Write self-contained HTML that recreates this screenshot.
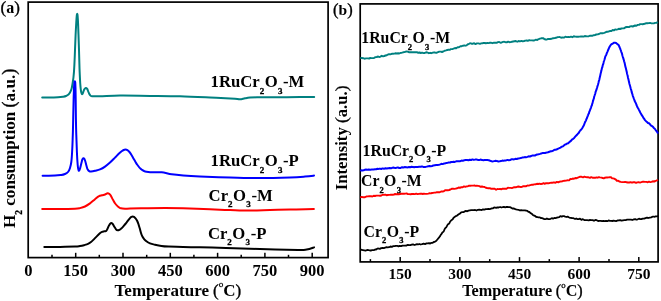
<!DOCTYPE html>
<html><head><meta charset="utf-8"><style>
html,body{margin:0;padding:0;background:#fff;}
body{width:661px;height:301px;overflow:hidden;}
svg{display:block;filter:blur(0.4px);}
text{font-family:"Liberation Serif","Times New Roman",serif;font-weight:bold;fill:#000;}
</style></head><body>
<svg width="661" height="301" viewBox="0 0 661 301">
<rect x="0" y="0" width="661" height="301" fill="#fff"/>

<text x="0.5" y="13" font-size="16"><tspan font-weight="normal" font-size="17.00" stroke="#000" stroke-width="0.35">(</tspan>a<tspan font-weight="normal" font-size="17.00" stroke="#000" stroke-width="0.35">)</tspan></text>
<rect x="28.2" y="2.1" width="299.9" height="255.5" fill="none" stroke="#000" stroke-width="1.7"/>
<g stroke="#000" stroke-width="1.5"><line x1="52.0" y1="257.6" x2="52.0" y2="254.8"/>
<line x1="75.7" y1="257.6" x2="75.7" y2="252.8"/>
<line x1="99.3" y1="257.6" x2="99.3" y2="254.8"/>
<line x1="123.0" y1="257.6" x2="123.0" y2="252.8"/>
<line x1="146.7" y1="257.6" x2="146.7" y2="254.8"/>
<line x1="170.3" y1="257.6" x2="170.3" y2="252.8"/>
<line x1="193.9" y1="257.6" x2="193.9" y2="254.8"/>
<line x1="217.6" y1="257.6" x2="217.6" y2="252.8"/>
<line x1="241.2" y1="257.6" x2="241.2" y2="254.8"/>
<line x1="264.9" y1="257.6" x2="264.9" y2="252.8"/>
<line x1="288.5" y1="257.6" x2="288.5" y2="254.8"/>
<line x1="312.2" y1="257.6" x2="312.2" y2="252.8"/></g>
<text x="28.4" y="276" font-size="16.50" text-anchor="middle">0</text>
<text x="75.7" y="276" font-size="16.50" text-anchor="middle">150</text>
<text x="123.0" y="276" font-size="16.50" text-anchor="middle">300</text>
<text x="170.3" y="276" font-size="16.50" text-anchor="middle">450</text>
<text x="217.6" y="276" font-size="16.50" text-anchor="middle">600</text>
<text x="264.9" y="276" font-size="16.50" text-anchor="middle">750</text>
<text x="312.2" y="276" font-size="16.50" text-anchor="middle">900</text>
<text x="114.6" y="295.8" font-size="17.00"><tspan>Temperature</tspan><tspan dx="-0.3"> </tspan><tspan font-weight="normal" font-size="17.00" stroke="#000" stroke-width="0.35">(</tspan><tspan font-weight="normal" font-size="9.18" dy="-8.84" stroke="#000" stroke-width="0.3">o</tspan><tspan dy="8.84">C</tspan><tspan font-weight="normal" font-size="17.00" stroke="#000" stroke-width="0.35">)</tspan></text>
<text transform="translate(15.3,228.0) rotate(-90)" font-size="17.10">H<tspan font-size="9.41" dy="6.50" stroke="#000" stroke-width="0.3">2</tspan><tspan dy="-6.50"> consumption </tspan><tspan font-weight="normal" font-size="17.96" stroke="#000" stroke-width="0.35">(</tspan>a.u.<tspan font-weight="normal" font-size="17.96" stroke="#000" stroke-width="0.35">)</tspan></text>
<path d="M42.2,97.4 C43.5,97.4 47.4,97.4 50.0,97.4 C52.6,97.4 55.8,97.3 58.0,97.2 C60.2,97.1 61.7,96.9 63.0,96.7 C64.3,96.5 65.1,96.4 66.0,96.0 C66.9,95.6 67.8,95.1 68.5,94.5 C69.2,93.9 69.5,93.4 70.0,92.5 C70.5,91.6 71.1,90.4 71.5,89.0 C71.9,87.6 72.2,86.0 72.5,84.0 C72.8,82.0 73.2,79.7 73.5,77.0 C73.8,74.3 74.0,72.5 74.2,68.0 C74.5,63.5 74.8,55.5 75.0,50.0 C75.2,44.5 75.4,39.7 75.6,35.0 C75.8,30.3 76.1,25.4 76.3,22.0 C76.5,18.6 76.7,15.8 76.9,14.6 C77.1,13.4 77.3,13.4 77.5,14.6 C77.7,15.8 77.8,18.6 78.0,22.0 C78.2,25.4 78.3,30.3 78.5,35.0 C78.7,39.7 78.8,44.5 79.0,50.0 C79.2,55.5 79.3,62.5 79.5,68.0 C79.7,73.5 80.0,79.2 80.2,83.0 C80.5,86.8 80.7,89.2 81.0,91.0 C81.3,92.8 81.5,93.6 81.8,94.0 C82.1,94.4 82.3,94.3 82.7,93.6 C83.1,92.8 83.7,90.5 84.2,89.5 C84.7,88.5 85.3,88.0 85.8,87.9 C86.3,87.8 86.7,88.2 87.2,88.9 C87.7,89.7 88.1,91.4 88.6,92.4 C89.1,93.4 89.4,94.4 90.0,95.0 C90.6,95.6 90.3,96.0 92.0,96.2 C93.7,96.4 95.3,96.4 100.0,96.3 C104.7,96.2 111.7,95.7 120.0,95.6 C128.3,95.5 140.0,95.8 150.0,95.9 C160.0,96.0 170.0,96.0 180.0,96.3 C190.0,96.6 200.8,97.1 210.0,97.5 C219.2,97.9 230.0,98.4 235.0,98.7 C240.0,99.0 238.3,99.4 240.0,99.3 C241.7,99.2 243.3,98.6 245.0,98.3 C246.7,98.0 247.5,97.8 250.0,97.6 C252.5,97.4 255.0,97.4 260.0,97.3 C265.0,97.2 273.3,97.2 280.0,97.2 C286.7,97.2 294.3,97.1 300.0,97.1 C305.7,97.1 311.8,97.0 314.2,97.0" fill="none" stroke="#008080" stroke-width="2" stroke-linejoin="round" stroke-linecap="round"/>
<path d="M42.6,175.7 C44.7,175.7 51.9,175.6 55.0,175.5 C58.1,175.4 59.5,175.2 61.2,175.0 C62.9,174.8 63.9,174.5 65.0,174.0 C66.1,173.5 67.2,173.0 68.0,172.0 C68.8,171.0 69.5,169.7 70.0,168.0 C70.5,166.3 70.9,165.0 71.3,162.0 C71.7,159.0 72.0,154.5 72.2,150.0 C72.5,145.5 72.6,140.3 72.8,135.0 C73.0,129.7 73.1,123.8 73.2,118.0 C73.3,112.2 73.5,105.0 73.6,100.0 C73.7,95.0 73.9,91.0 74.0,88.0 C74.1,85.0 74.3,83.3 74.4,82.2 C74.5,81.1 74.7,81.2 74.8,81.2 C74.9,81.2 75.1,81.1 75.2,82.2 C75.3,83.3 75.4,85.0 75.5,88.0 C75.6,91.0 75.6,95.0 75.7,100.0 C75.8,105.0 75.8,112.2 75.9,118.0 C76.0,123.8 76.1,129.3 76.3,135.0 C76.5,140.7 76.7,147.0 76.9,152.0 C77.1,157.0 77.4,161.9 77.7,165.0 C78.0,168.1 78.3,170.0 78.7,170.6 C79.1,171.2 79.6,169.8 80.0,168.6 C80.4,167.4 80.9,165.0 81.3,163.5 C81.7,162.0 82.0,160.5 82.3,159.6 C82.6,158.7 83.0,158.3 83.3,158.2 C83.6,158.1 84.0,158.3 84.3,158.8 C84.6,159.3 84.9,160.2 85.3,161.3 C85.7,162.4 86.0,164.2 86.4,165.5 C86.8,166.8 87.1,168.2 87.6,169.2 C88.1,170.1 88.6,170.8 89.2,171.2 C89.8,171.6 90.0,171.7 91.0,171.6 C92.0,171.5 93.5,171.2 95.0,170.8 C96.5,170.4 98.3,170.1 100.0,169.4 C101.7,168.7 103.3,167.8 105.0,166.6 C106.7,165.4 108.3,164.0 110.0,162.5 C111.7,161.0 113.5,159.1 115.0,157.6 C116.5,156.1 117.8,154.7 119.0,153.6 C120.2,152.5 121.1,151.7 122.0,151.0 C122.9,150.3 123.8,149.9 124.5,149.7 C125.2,149.5 125.8,149.6 126.5,149.8 C127.2,150.0 127.8,150.4 128.5,151.0 C129.2,151.6 129.7,152.2 130.5,153.4 C131.3,154.6 132.5,156.8 133.3,158.2 C134.1,159.6 134.8,160.9 135.5,162.0 C136.2,163.1 136.8,164.1 137.5,165.0 C138.2,165.9 138.8,166.8 139.5,167.6 C140.2,168.3 140.8,168.9 141.5,169.5 C142.2,170.1 143.2,170.6 144.0,171.0 C144.8,171.4 144.9,171.5 146.5,171.7 C148.1,171.9 150.8,172.2 153.3,172.3 C155.8,172.4 158.6,172.0 161.7,172.3 C164.8,172.6 168.1,173.8 171.7,174.3 C175.3,174.8 178.6,175.1 183.3,175.5 C188.0,175.9 192.2,176.2 200.0,176.6 C207.8,176.9 220.2,177.3 230.0,177.6 C239.8,177.8 249.0,178.1 259.0,178.1 C269.0,178.1 282.3,177.7 290.0,177.4 C297.7,177.2 301.0,176.9 305.0,176.6 C309.0,176.3 312.5,175.8 314.0,175.6" fill="none" stroke="#0000ff" stroke-width="2.0" stroke-linejoin="round" stroke-linecap="round"/>
<path d="M42.2,208.9 C45.2,208.9 54.5,208.9 60.0,208.9 C65.5,208.9 71.7,208.8 75.0,208.7 C78.3,208.6 78.3,208.5 80.0,208.1 C81.7,207.7 83.3,207.3 85.0,206.5 C86.7,205.7 88.3,204.6 90.0,203.4 C91.7,202.2 93.5,200.4 95.0,199.2 C96.5,198.0 97.8,196.8 99.0,196.2 C100.2,195.5 101.0,195.6 102.0,195.3 C103.0,195.0 104.1,194.8 105.0,194.5 C105.9,194.2 106.8,193.4 107.5,193.3 C108.2,193.2 108.9,193.6 109.5,194.0 C110.1,194.4 110.4,195.0 111.0,196.0 C111.6,197.0 112.3,198.6 113.0,199.8 C113.7,201.0 114.3,202.2 115.0,203.2 C115.7,204.2 116.3,204.9 117.0,205.6 C117.7,206.3 118.3,206.9 119.0,207.3 C119.7,207.8 120.0,208.1 121.0,208.3 C122.0,208.5 123.5,208.6 125.0,208.7 C126.5,208.8 126.2,208.7 130.0,208.6 C133.8,208.5 142.2,208.3 148.0,208.2 C153.8,208.1 159.2,208.1 165.0,208.1 C170.8,208.1 175.5,208.1 183.0,208.3 C190.5,208.5 202.2,209.0 210.0,209.3 C217.8,209.6 223.5,209.9 230.0,210.1 C236.5,210.3 242.3,210.6 249.0,210.6 C255.7,210.6 263.2,210.2 270.0,210.0 C276.8,209.8 282.7,209.6 290.0,209.4 C297.3,209.2 309.9,209.1 313.9,209.0" fill="none" stroke="#ff0000" stroke-width="2" stroke-linejoin="round" stroke-linecap="round"/>
<path d="M44.3,247.1 C46.9,247.1 54.9,247.0 60.0,246.9 C65.1,246.8 71.7,246.7 75.0,246.6 C78.3,246.5 78.5,246.3 80.0,246.1 C81.5,245.9 82.7,245.6 84.0,245.2 C85.3,244.8 86.8,244.4 88.0,243.9 C89.2,243.4 90.1,242.7 91.0,242.0 C91.9,241.3 92.4,240.8 93.3,239.9 C94.2,239.0 95.4,237.7 96.5,236.6 C97.6,235.5 99.0,234.1 99.9,233.3 C100.8,232.5 101.4,232.2 102.0,231.9 C102.6,231.6 102.8,231.5 103.5,231.4 C104.2,231.3 105.2,231.5 105.9,231.1 C106.6,230.7 107.0,229.7 107.5,228.8 C108.0,227.9 108.5,226.3 109.0,225.5 C109.5,224.7 109.8,224.1 110.2,223.7 C110.6,223.3 110.9,223.1 111.3,223.1 C111.7,223.1 112.0,223.3 112.5,223.8 C113.0,224.3 113.4,225.3 114.0,226.2 C114.6,227.1 115.4,228.6 116.0,229.3 C116.6,230.0 117.2,230.2 117.8,230.3 C118.4,230.4 118.9,230.1 119.5,229.8 C120.1,229.5 120.5,229.3 121.2,228.6 C122.0,227.9 123.1,226.6 124.0,225.6 C124.9,224.6 125.5,223.8 126.5,222.6 C127.5,221.4 129.0,219.2 129.8,218.3 C130.6,217.4 131.0,217.2 131.5,216.9 C132.0,216.6 132.3,216.5 132.7,216.5 C133.1,216.5 133.5,216.6 134.0,216.9 C134.5,217.2 135.0,217.7 135.5,218.3 C136.0,219.0 136.6,219.8 137.1,220.8 C137.6,221.8 138.1,223.0 138.5,224.3 C138.9,225.6 139.4,227.2 139.8,228.6 C140.2,230.0 140.6,231.7 141.0,233.0 C141.4,234.3 141.8,235.5 142.4,236.6 C143.0,237.7 143.6,238.5 144.3,239.3 C145.0,240.1 145.5,240.5 146.4,241.2 C147.3,241.9 148.6,242.8 150.0,243.4 C151.4,244.0 153.3,244.4 155.0,244.8 C156.7,245.2 157.7,245.4 160.0,245.7 C162.3,246.0 162.0,246.3 168.7,246.6 C175.4,246.9 190.4,247.1 200.0,247.3 C209.6,247.5 216.0,247.7 226.0,248.0 C236.0,248.3 248.0,248.7 260.0,249.0 C272.0,249.3 290.2,249.9 298.0,250.0 C305.8,250.1 304.0,250.0 306.7,249.6 C309.4,249.2 312.8,247.8 314.0,247.4" fill="none" stroke="#000000" stroke-width="2" stroke-linejoin="round" stroke-linecap="round"/>
<text x="210.6" y="87.2" font-size="16.70" text-anchor="start">1RuCr<tspan font-size="9.02" dy="6.68" stroke="#000" stroke-width="0.3">2</tspan><tspan dx="0.4" dy="-6.68">O</tspan><tspan dx="0.3" font-size="9.02" dy="6.68" stroke="#000" stroke-width="0.3">3</tspan><tspan dx="0.6" dy="-6.68">-M</tspan></text>
<text x="210.6" y="166.1" font-size="16.70" text-anchor="start">1RuCr<tspan font-size="9.02" dy="6.68" stroke="#000" stroke-width="0.3">2</tspan><tspan dx="0.4" dy="-6.68">O</tspan><tspan dx="0.3" font-size="9.02" dy="6.68" stroke="#000" stroke-width="0.3">3</tspan><tspan dx="0.6" dy="-6.68">-P</tspan></text>
<text x="208.6" y="200.7" font-size="16.70" text-anchor="start">Cr<tspan font-size="9.02" dy="6.68" stroke="#000" stroke-width="0.3">2</tspan><tspan dx="0.4" dy="-6.68">O</tspan><tspan dx="0.3" font-size="9.02" dy="6.68" stroke="#000" stroke-width="0.3">3</tspan><tspan dx="0.6" dy="-6.68">-M</tspan></text>
<text x="207.9" y="238.6" font-size="16.70" text-anchor="start">Cr<tspan font-size="9.02" dy="6.68" stroke="#000" stroke-width="0.3">2</tspan><tspan dx="0.4" dy="-6.68">O</tspan><tspan dx="0.3" font-size="9.02" dy="6.68" stroke="#000" stroke-width="0.3">3</tspan><tspan dx="0.6" dy="-6.68">-P</tspan></text>
<text x="333" y="14.6" font-size="15.5"><tspan font-weight="normal" font-size="16.50" stroke="#000" stroke-width="0.35">(</tspan>b<tspan font-weight="normal" font-size="16.50" stroke="#000" stroke-width="0.35">)</tspan></text>
<rect x="360.2" y="3.9" width="297.9" height="258" fill="none" stroke="#000" stroke-width="1.7"/>
<g stroke="#000" stroke-width="1.5"><line x1="370.4" y1="261.9" x2="370.4" y2="259.1"/>
<line x1="400.2" y1="261.9" x2="400.2" y2="257.1"/>
<line x1="430.0" y1="261.9" x2="430.0" y2="259.1"/>
<line x1="459.8" y1="261.9" x2="459.8" y2="257.1"/>
<line x1="489.7" y1="261.9" x2="489.7" y2="259.1"/>
<line x1="519.5" y1="261.9" x2="519.5" y2="257.1"/>
<line x1="549.3" y1="261.9" x2="549.3" y2="259.1"/>
<line x1="579.1" y1="261.9" x2="579.1" y2="257.1"/>
<line x1="609.0" y1="261.9" x2="609.0" y2="259.1"/>
<line x1="638.8" y1="261.9" x2="638.8" y2="257.1"/></g>
<text x="400.2" y="279.3" font-size="15.50" text-anchor="middle">150</text>
<text x="459.8" y="279.3" font-size="15.50" text-anchor="middle">300</text>
<text x="519.5" y="279.3" font-size="15.50" text-anchor="middle">450</text>
<text x="579.1" y="279.3" font-size="15.50" text-anchor="middle">600</text>
<text x="638.8" y="279.3" font-size="15.50" text-anchor="middle">750</text>
<text x="462.2" y="296.0" font-size="16.20"><tspan>Temperature</tspan><tspan dx="-0.3"> </tspan><tspan font-weight="normal" font-size="16.20" stroke="#000" stroke-width="0.35">(</tspan><tspan font-weight="normal" font-size="8.75" dy="-8.42" stroke="#000" stroke-width="0.3">o</tspan><tspan dy="8.42">C</tspan><tspan font-weight="normal" font-size="16.20" stroke="#000" stroke-width="0.35">)</tspan></text>
<text transform="translate(346.5,190.3) rotate(-90)" font-size="16.70">Intensity <tspan font-weight="normal" font-size="17.54" stroke="#000" stroke-width="0.35">(</tspan>a.u.<tspan font-weight="normal" font-size="17.54" stroke="#000" stroke-width="0.35">)</tspan></text>
<path d="M361.0,58.0 L361.9,58.0 L363.1,58.2 L364.5,58.7 L366.0,58.4 L367.6,58.4 L369.1,58.5 L370.3,58.0 L371.5,58.1 L372.8,58.1 L374.0,58.0 L375.4,57.1 L376.7,57.0 L378.2,56.5 L379.3,57.0 L380.5,56.6 L381.7,55.8 L383.0,56.3 L384.3,56.0 L385.5,55.5 L386.8,55.2 L388.0,54.5 L389.2,54.2 L390.3,54.4 L391.8,53.8 L393.1,53.7 L394.4,53.6 L395.7,53.3 L396.9,53.5 L398.1,53.3 L399.3,53.5 L400.6,52.9 L401.9,52.7 L403.2,52.3 L404.4,52.1 L405.6,51.7 L406.9,51.4 L408.2,52.0 L409.4,52.2 L410.6,52.2 L411.9,52.3 L413.2,52.1 L414.5,52.2 L415.7,52.3 L416.9,52.1 L418.2,52.8 L419.5,52.5 L420.8,53.0 L422.1,52.6 L423.5,53.1 L424.8,53.0 L426.1,52.3 L427.4,52.5 L428.8,53.2 L430.2,52.8 L431.5,53.2 L432.8,52.7 L434.1,52.3 L435.5,52.7 L436.9,52.7 L438.2,52.0 L439.5,51.6 L440.8,51.6 L442.0,52.0 L443.2,51.5 L444.6,50.7 L446.0,50.4 L447.3,50.0 L448.6,49.6 L449.7,49.9 L450.8,49.1 L452.4,49.1 L453.5,48.7 L455.0,48.0 L456.2,48.2 L457.6,47.2 L459.0,47.2 L460.4,46.3 L461.7,46.2 L463.1,45.7 L464.4,45.4 L465.5,45.7 L466.6,45.3 L467.6,44.3 L468.4,44.3 L470.0,43.3 L470.9,43.4 L471.9,43.8 L473.0,43.7 L474.2,43.2 L475.5,44.1 L476.9,43.4 L478.4,43.4 L480.0,43.8 L481.1,43.4 L482.2,43.3 L483.4,43.0 L484.6,43.0 L485.9,43.3 L487.2,42.9 L488.6,43.1 L489.9,42.8 L491.3,42.8 L492.6,43.2 L494.0,42.7 L495.3,42.6 L496.6,42.8 L497.9,42.1 L499.2,42.0 L500.4,42.7 L501.7,42.5 L503.0,41.9 L504.3,41.8 L505.5,42.2 L506.8,42.3 L508.1,41.6 L509.4,42.2 L510.6,42.1 L511.9,41.8 L513.2,41.5 L514.5,41.2 L515.8,41.0 L517.2,41.8 L518.6,41.0 L520.0,41.4 L521.4,40.9 L522.7,41.3 L524.1,41.0 L525.4,40.6 L526.6,40.5 L527.8,40.9 L528.9,40.2 L529.9,40.3 L531.8,40.4 L533.4,40.5 L534.8,40.2 L536.0,39.7 L537.2,40.1 L538.2,39.3 L539.9,38.7 L541.2,38.3 L542.4,38.3 L543.4,38.3 L544.2,39.0 L545.7,39.5 L546.6,39.6 L547.7,39.0 L548.8,38.9 L550.1,39.0 L551.5,38.8 L553.1,38.2 L554.8,38.0 L555.9,37.8 L557.1,37.3 L558.4,37.1 L559.7,37.0 L561.1,37.7 L562.5,37.4 L563.9,37.6 L565.4,36.7 L566.8,37.1 L568.2,36.9 L569.6,37.1 L571.0,36.6 L572.4,37.2 L573.8,36.3 L575.2,36.6 L576.6,36.7 L578.1,36.8 L579.5,36.6 L580.9,36.5 L582.3,36.5 L583.6,36.6 L584.8,36.0 L585.9,36.2 L587.0,36.4 L588.8,36.2 L590.3,35.6 L591.5,35.8 L592.6,35.7 L593.8,35.2 L595.0,35.0 L596.3,34.5 L597.6,34.4 L599.0,34.0 L600.3,33.2 L601.7,33.3 L603.1,33.2 L604.2,32.9 L605.4,32.4 L606.5,31.8 L607.7,31.8 L608.9,31.4 L610.2,31.0 L611.4,31.0 L612.7,30.0 L613.9,30.4 L615.1,29.4 L616.3,29.7 L617.6,29.3 L618.8,28.8 L620.1,29.0 L621.4,28.5 L622.6,28.4 L623.9,28.4 L625.2,27.5 L626.4,27.0 L627.7,27.0 L629.0,27.1 L630.2,26.4 L631.5,26.1 L632.7,26.5 L633.9,26.0 L635.1,25.5 L636.4,25.7 L637.7,24.9 L639.0,24.9 L640.2,24.1 L641.4,24.1 L642.6,24.2 L643.7,24.0 L644.7,23.8 L646.2,23.2 L647.5,23.3 L648.8,23.1 L650.0,22.9 L651.2,23.2 L652.5,23.4 L653.9,23.2 L655.3,22.9 L656.4,22.9 L657.2,22.4" fill="none" stroke="#008080" stroke-width="1.9" stroke-linejoin="round" stroke-linecap="round"/>
<path d="M361.0,170.4 L361.7,170.3 L362.6,170.4 L363.6,170.3 L364.7,169.8 L366.0,169.6 L367.3,169.7 L368.7,169.6 L370.3,169.8 L371.8,169.6 L373.4,169.4 L375.1,169.2 L376.2,169.2 L377.4,168.8 L378.6,168.9 L379.9,168.6 L381.2,169.0 L382.6,168.4 L384.0,168.8 L385.4,168.2 L386.8,168.5 L388.2,168.2 L389.7,168.1 L391.1,168.3 L392.5,167.7 L393.9,167.6 L395.2,168.1 L396.5,167.8 L397.8,167.4 L399.2,168.0 L400.6,167.9 L402.1,167.2 L403.5,167.4 L404.9,167.1 L406.3,167.2 L407.6,167.4 L409.0,167.0 L410.3,167.3 L411.6,166.8 L412.9,166.9 L414.1,167.3 L415.3,166.9 L416.4,166.9 L417.5,167.0 L419.2,166.8 L420.6,166.7 L422.0,166.4 L423.2,166.9 L424.4,167.0 L425.6,166.9 L426.9,166.6 L428.2,166.3 L429.6,166.1 L430.8,166.2 L432.1,166.0 L433.4,165.4 L434.8,165.2 L436.2,165.0 L437.6,164.9 L439.0,164.8 L440.3,164.4 L441.5,163.8 L442.7,164.1 L443.8,163.6 L444.7,163.5 L446.6,162.9 L447.7,162.8 L448.6,162.6 L450.0,162.6 L451.1,162.0 L452.2,162.1 L453.5,161.7 L454.8,161.9 L456.2,161.3 L457.6,161.3 L459.1,161.2 L460.3,161.2 L461.6,160.6 L462.9,160.7 L464.3,160.3 L465.7,160.1 L467.1,160.1 L468.5,160.3 L469.8,159.8 L471.2,160.0 L472.5,159.4 L473.9,159.9 L475.2,159.6 L476.5,159.5 L477.8,159.9 L479.2,160.1 L480.5,159.6 L481.9,159.9 L483.3,160.3 L484.6,160.1 L486.0,160.1 L487.4,160.1 L488.8,160.3 L490.2,160.8 L491.6,161.2 L493.0,161.4 L494.3,161.1 L495.7,160.8 L496.9,161.1 L498.4,161.4 L499.7,161.3 L501.0,161.1 L502.3,160.6 L503.5,160.7 L504.8,160.5 L506.1,160.4 L507.5,159.9 L508.8,160.2 L510.1,160.0 L511.4,159.3 L512.7,159.2 L514.0,159.4 L515.4,158.8 L516.8,159.0 L518.2,158.5 L519.6,158.3 L520.8,158.1 L522.1,157.6 L523.4,157.4 L524.7,157.1 L526.1,157.2 L527.4,156.9 L528.7,156.3 L529.9,156.6 L531.1,156.0 L532.2,155.6 L533.2,155.6 L534.9,155.5 L536.2,154.8 L537.3,154.5 L538.5,154.3 L540.0,153.9 L541.2,153.5 L542.4,153.1 L543.8,153.0 L545.1,152.9 L546.6,152.6 L548.0,152.2 L549.4,151.7 L550.8,151.3 L552.0,151.2 L553.2,150.6 L554.5,149.7 L555.7,149.7 L557.0,149.3 L558.2,148.7 L559.3,148.2 L560.5,147.6 L561.6,146.8 L562.8,146.4 L563.9,145.5 L565.0,144.6 L566.1,144.2 L567.1,143.5 L568.2,143.2 L569.2,142.3 L570.2,141.4 L571.2,140.6 L572.2,139.4 L573.2,138.8 L574.2,137.9 L575.2,136.7 L576.1,135.7 L577.0,134.8 L577.8,133.8 L578.7,133.0 L579.5,131.5 L580.3,130.5 L581.1,129.6 L581.8,128.8 L582.5,127.7 L583.2,126.4 L583.8,125.5 L584.4,123.9 L584.9,122.5 L585.4,121.6 L586.0,120.3 L586.5,118.9 L587.0,118.0 L587.5,116.5 L588.0,115.3 L588.4,114.2 L588.9,113.5 L589.3,111.7 L589.8,110.8 L590.2,109.6 L590.7,108.3 L591.1,107.3 L591.5,106.0 L591.9,105.3 L592.2,103.9 L592.6,102.9 L592.9,101.4 L593.2,100.4 L593.5,99.3 L593.9,98.3 L594.2,96.6 L594.6,95.5 L594.9,94.6 L595.3,93.5 L595.6,91.9 L596.0,90.9 L596.4,89.9 L596.8,88.4 L597.2,87.3 L597.5,86.1 L597.9,85.0 L598.3,83.5 L598.6,82.3 L598.9,80.8 L599.3,79.8 L599.6,78.2 L599.9,77.1 L600.2,75.7 L600.5,74.3 L600.8,72.9 L601.1,71.7 L601.4,70.6 L601.7,69.2 L602.0,67.9 L602.4,67.0 L602.7,65.3 L603.1,64.4 L603.5,62.9 L603.8,61.5 L604.2,60.5 L604.6,59.3 L605.0,57.7 L605.4,56.3 L605.9,55.5 L606.4,54.3 L606.9,52.9 L607.4,51.8 L608.0,50.3 L608.5,49.3 L609.0,48.0 L609.5,47.1 L609.9,46.3 L610.9,44.8 L611.8,44.0 L612.6,43.8 L613.8,42.8 L615.0,42.7 L616.1,42.9 L617.3,44.1 L618.1,44.6 L618.8,45.3 L619.7,47.5 L620.1,48.4 L620.4,49.4 L620.8,50.2 L621.2,51.6 L621.6,52.6 L622.0,53.7 L622.4,55.5 L622.8,56.8 L623.1,57.6 L623.5,59.2 L623.8,59.9 L624.1,61.3 L624.5,62.4 L624.8,63.8 L625.1,65.2 L625.5,66.9 L625.8,68.1 L626.1,69.2 L626.4,70.4 L626.7,71.7 L627.0,73.4 L627.3,74.5 L627.6,75.5 L627.9,77.2 L628.2,78.4 L628.5,79.6 L628.8,81.0 L629.1,82.3 L629.4,83.7 L629.7,84.7 L630.1,86.0 L630.4,87.2 L630.7,88.5 L631.1,89.6 L631.4,90.8 L631.7,92.1 L632.1,93.4 L632.4,94.2 L632.8,95.8 L633.2,96.8 L633.7,98.3 L634.2,99.4 L634.6,100.8 L635.1,101.8 L635.6,102.7 L636.1,103.8 L636.5,105.0 L637.0,106.2 L637.6,107.5 L638.2,108.3 L638.7,109.4 L639.3,110.6 L639.9,111.7 L640.4,112.7 L641.0,113.7 L641.8,115.2 L642.6,116.3 L643.4,117.9 L644.2,118.9 L645.0,120.1 L646.0,121.2 L647.0,122.0 L648.0,123.0 L649.0,123.3 L650.0,124.3 L651.1,125.7 L652.1,126.2 L653.0,126.8 L654.0,128.2 L654.8,128.8 L655.5,129.8 L656.3,130.8 L657.1,131.8 L657.6,132.8" fill="none" stroke="#0000ff" stroke-width="2.0" stroke-linejoin="round" stroke-linecap="round"/>
<path d="M361.0,197.2 L361.7,196.9 L362.7,197.2 L363.8,197.1 L365.0,197.2 L366.4,196.5 L367.8,196.4 L369.3,196.2 L370.8,196.1 L372.3,196.5 L373.7,195.8 L375.1,196.0 L376.3,195.6 L377.6,195.6 L378.8,195.6 L380.1,195.8 L381.4,195.5 L382.6,194.8 L383.9,194.9 L385.2,194.6 L386.5,195.2 L387.8,195.0 L389.0,194.9 L390.3,194.8 L391.5,194.6 L392.8,194.7 L394.0,194.5 L395.2,194.0 L396.4,194.4 L397.6,194.0 L398.8,194.2 L400.0,194.0 L401.3,193.8 L402.6,193.7 L404.0,193.8 L405.4,193.6 L406.6,193.4 L407.9,194.1 L409.2,194.1 L410.5,194.2 L411.9,194.0 L413.3,193.9 L414.8,194.1 L416.2,193.6 L417.6,194.1 L419.0,193.9 L420.3,193.7 L421.6,193.7 L422.8,194.0 L423.9,193.7 L425.0,193.9 L426.8,193.9 L428.3,193.6 L429.6,193.3 L430.9,193.4 L432.0,193.0 L433.2,192.9 L434.3,192.6 L435.6,192.6 L437.0,192.1 L438.3,192.3 L439.7,192.3 L441.1,191.5 L442.5,191.5 L443.8,191.3 L445.1,190.3 L446.2,190.1 L447.8,190.3 L449.2,190.0 L450.4,189.5 L451.7,188.8 L453.0,188.7 L454.4,188.9 L455.8,188.6 L457.2,188.3 L458.6,187.5 L460.0,187.8 L461.3,187.1 L462.7,187.2 L464.0,186.4 L465.3,186.9 L466.6,186.4 L467.9,186.3 L469.1,185.6 L470.4,185.7 L471.7,185.6 L473.3,185.6 L474.4,185.5 L475.6,185.9 L476.8,185.8 L478.1,185.9 L479.4,186.1 L480.7,186.8 L482.0,186.5 L483.3,186.9 L484.6,187.0 L485.8,187.7 L487.1,188.0 L488.4,188.2 L489.7,188.1 L490.9,188.7 L492.1,188.8 L493.3,188.7 L494.7,188.8 L496.1,189.8 L497.4,189.0 L498.7,189.1 L500.0,189.0 L501.6,189.2 L502.7,188.6 L504.0,188.8 L505.2,188.6 L506.5,188.8 L507.9,187.8 L509.2,187.9 L510.6,187.9 L511.9,188.1 L513.2,187.5 L514.5,187.3 L515.8,187.3 L517.0,186.9 L518.3,186.5 L519.6,186.8 L520.9,187.0 L522.2,186.7 L523.5,186.1 L524.9,186.3 L526.2,186.2 L527.5,185.5 L528.8,185.6 L530.2,185.2 L531.5,184.8 L532.9,184.7 L534.3,184.4 L535.6,184.3 L536.9,183.8 L538.2,184.0 L539.6,183.6 L540.9,184.1 L542.2,183.8 L543.5,183.2 L544.7,183.8 L546.0,183.2 L547.3,183.3 L548.6,183.3 L550.0,182.9 L551.3,182.8 L552.6,182.7 L554.0,182.3 L555.5,182.8 L556.9,181.9 L558.3,182.4 L559.6,181.6 L560.9,181.5 L562.2,181.4 L563.3,180.9 L564.7,180.7 L566.0,180.6 L567.1,180.3 L568.2,180.4 L569.3,180.2 L570.4,179.0 L571.6,179.1 L572.8,178.5 L574.0,178.8 L575.3,178.0 L576.6,178.2 L577.9,177.6 L579.2,177.0 L580.4,176.7 L581.6,176.8 L583.1,177.3 L584.5,176.7 L585.8,177.1 L587.1,177.2 L588.5,177.3 L590.0,177.8 L591.2,177.2 L592.5,177.7 L593.8,177.6 L595.2,177.8 L596.5,177.4 L597.7,177.7 L598.9,177.2 L599.9,177.4 L601.5,177.6 L602.7,178.0 L603.8,178.3 L604.9,177.7 L606.2,177.5 L607.4,177.5 L608.7,177.4 L609.9,177.1 L611.0,177.2 L612.1,178.3 L613.1,178.4 L614.1,178.7 L615.0,179.2 L615.9,179.7 L616.9,180.9 L618.2,180.7 L619.3,181.5 L620.7,181.9 L622.1,182.1 L623.6,182.1 L625.1,181.9 L626.5,182.2 L627.9,182.5 L629.2,182.5 L630.6,182.2 L632.0,182.7 L633.4,182.1 L634.9,182.3 L636.1,182.9 L637.3,182.4 L638.6,182.2 L640.0,182.6 L641.3,182.2 L642.5,181.8 L643.7,181.7 L644.8,181.9 L646.4,181.9 L647.8,182.3 L649.0,181.6 L650.3,182.1 L651.5,181.9 L652.8,181.3 L654.2,181.5 L655.4,181.0 L656.5,180.5 L657.3,180.3" fill="none" stroke="#ff0000" stroke-width="1.9" stroke-linejoin="round" stroke-linecap="round"/>
<path d="M361.0,250.0 L361.8,249.7 L362.9,250.2 L364.2,250.3 L365.6,250.6 L367.1,250.0 L368.6,250.1 L370.0,250.5 L371.2,250.5 L372.1,250.1 L373.8,250.2 L375.1,249.4 L376.1,249.5 L377.2,248.7 L378.4,248.5 L379.8,248.9 L381.2,248.1 L382.7,247.8 L383.9,248.1 L385.1,247.7 L386.4,247.1 L387.7,247.3 L389.1,247.2 L390.5,246.5 L391.9,246.8 L393.3,246.2 L394.6,246.2 L395.8,245.9 L397.1,245.8 L398.4,246.4 L399.7,245.8 L401.1,246.2 L402.5,245.6 L403.9,245.6 L405.4,245.7 L406.6,245.5 L407.8,244.9 L409.1,245.2 L410.4,245.1 L411.7,244.6 L413.0,244.4 L414.4,245.0 L415.7,244.6 L417.0,244.2 L418.2,244.3 L419.4,244.0 L420.5,244.5 L422.1,244.1 L423.6,243.6 L425.1,244.1 L426.5,243.4 L427.8,243.4 L429.0,243.1 L430.1,243.6 L431.1,242.9 L432.7,242.8 L433.8,242.0 L434.7,241.8 L435.6,241.4 L436.7,240.3 L437.6,239.2 L438.7,237.9 L439.4,237.0 L440.1,236.1 L440.9,234.6 L441.6,233.8 L442.4,232.5 L443.2,231.9 L443.9,230.9 L444.7,229.0 L445.4,228.0 L446.2,227.4 L446.9,226.1 L447.7,224.6 L448.5,224.1 L449.3,223.3 L450.1,221.7 L450.9,220.7 L451.8,219.9 L452.7,219.3 L453.6,217.8 L454.6,217.1 L455.6,216.2 L456.7,215.9 L457.7,215.0 L458.7,214.2 L459.9,213.6 L461.0,212.5 L462.1,212.1 L463.4,212.2 L464.8,211.4 L465.9,210.9 L467.2,211.3 L468.5,210.6 L469.8,210.4 L471.2,210.2 L472.6,210.2 L473.9,210.1 L475.2,210.0 L476.5,210.5 L477.9,209.8 L479.2,209.7 L480.5,209.9 L481.8,210.0 L483.0,209.3 L484.4,209.6 L485.7,209.1 L487.0,209.1 L488.3,209.0 L489.4,209.2 L490.5,208.8 L491.8,208.4 L492.7,208.4 L493.7,207.7 L495.0,207.5 L496.1,207.9 L497.4,207.4 L498.7,207.5 L500.1,207.0 L501.4,207.5 L502.6,207.2 L503.9,206.8 L505.2,207.4 L506.3,207.0 L507.5,207.0 L508.7,207.1 L509.9,207.2 L511.1,207.7 L512.4,208.5 L513.5,208.4 L514.7,208.9 L516.0,209.4 L517.3,209.7 L518.5,209.8 L520.0,210.5 L521.1,210.1 L522.3,210.3 L523.6,210.4 L524.9,210.3 L526.1,210.6 L527.4,210.9 L528.4,211.9 L529.5,212.0 L530.5,213.2 L531.6,213.6 L532.6,214.7 L533.7,215.4 L534.8,215.8 L536.0,216.8 L537.1,217.0 L538.4,217.4 L539.6,217.3 L540.8,218.0 L542.1,218.2 L543.3,218.6 L544.5,219.2 L545.7,219.2 L546.9,218.5 L548.2,219.1 L549.4,219.2 L550.6,218.8 L551.8,218.2 L553.0,218.7 L554.3,218.0 L555.6,218.1 L556.8,217.7 L558.0,217.3 L559.2,217.1 L560.3,216.1 L561.7,216.7 L562.9,216.2 L564.0,216.2 L565.2,216.6 L566.6,217.0 L567.6,216.6 L568.7,217.3 L569.8,217.8 L570.9,217.8 L572.1,218.1 L573.5,218.2 L575.1,219.0 L576.2,218.5 L577.4,219.1 L578.7,219.2 L580.0,218.7 L581.4,219.8 L582.8,219.2 L584.3,220.1 L585.7,220.1 L587.1,220.2 L588.5,220.3 L589.9,220.0 L591.3,220.1 L592.6,220.1 L594.0,220.8 L595.4,220.0 L596.7,220.2 L598.1,221.0 L599.5,220.9 L600.8,220.9 L602.1,221.2 L603.4,220.8 L604.7,221.1 L606.1,220.8 L607.4,221.2 L608.6,220.4 L609.9,220.8 L611.1,220.9 L612.3,221.0 L613.6,220.7 L614.8,220.9 L616.1,221.1 L617.5,220.5 L618.8,220.3 L620.1,220.1 L621.5,220.7 L622.9,220.3 L624.3,220.1 L625.7,220.2 L627.1,219.7 L628.5,219.7 L629.8,219.6 L631.1,219.6 L632.3,220.0 L633.8,219.4 L635.2,219.1 L636.5,219.7 L637.7,219.3 L639.0,218.7 L640.2,219.1 L641.5,219.0 L642.9,218.7 L644.1,218.7 L645.5,218.1 L646.9,217.7 L648.3,218.0 L649.8,217.6 L651.2,217.4 L652.5,216.7 L653.7,216.7 L654.8,216.8 L655.6,216.4 L657.4,216.3 L657.6,216.2" fill="none" stroke="#000000" stroke-width="1.8" stroke-linejoin="round" stroke-linecap="round"/>
<text x="361.3" y="43.2" font-size="15.80" text-anchor="start">1RuCr<tspan font-size="8.53" dy="6.32" stroke="#000" stroke-width="0.3">2</tspan><tspan dx="0.4" dy="-6.32">O</tspan><tspan dx="0.3" font-size="8.53" dy="6.32" stroke="#000" stroke-width="0.3">3</tspan><tspan dx="0.6" dy="-6.32">-M</tspan></text>
<text x="362.6" y="155.6" font-size="15.80" text-anchor="start">1RuCr<tspan font-size="8.53" dy="6.32" stroke="#000" stroke-width="0.3">2</tspan><tspan dx="0.4" dy="-6.32">O</tspan><tspan dx="0.3" font-size="8.53" dy="6.32" stroke="#000" stroke-width="0.3">3</tspan><tspan dx="0.6" dy="-6.32">-P</tspan></text>
<text x="361.0" y="186.2" font-size="15.80" text-anchor="start">Cr<tspan font-size="8.53" dy="6.32" stroke="#000" stroke-width="0.3">2</tspan><tspan dx="0.4" dy="-6.32">O</tspan><tspan dx="0.3" font-size="8.53" dy="6.32" stroke="#000" stroke-width="0.3">3</tspan><tspan dx="0.6" dy="-6.32">-M</tspan></text>
<text x="363.6" y="237.0" font-size="15.80" text-anchor="start">Cr<tspan font-size="8.53" dy="6.32" stroke="#000" stroke-width="0.3">2</tspan><tspan dx="0.4" dy="-6.32">O</tspan><tspan dx="0.3" font-size="8.53" dy="6.32" stroke="#000" stroke-width="0.3">3</tspan><tspan dx="0.6" dy="-6.32">-P</tspan></text>
</svg></body></html>
